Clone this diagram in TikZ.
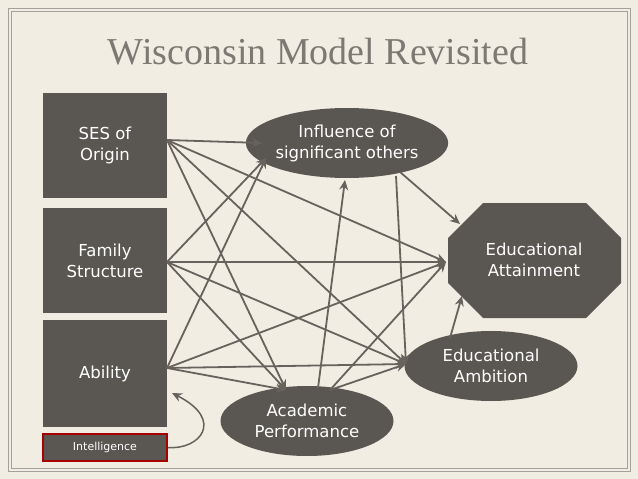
\documentclass[tikz,border=0pt]{standalone}
\usepackage{fontspec}
\setmainfont{DejaVu Sans}
\newfontfamily\titlefont{Liberation Serif}
\usetikzlibrary{shapes.geometric,arrows.meta}
\definecolor{bg}{HTML}{F2EDE3}
\definecolor{boxc}{HTML}{5A5652}
\definecolor{arr}{HTML}{67625C}
\definecolor{ttl}{HTML}{7D7872}
\begin{document}
\begin{tikzpicture}[x=1pt,y=-1pt,
  sq/.style={fill=boxc,text=white,minimum width=124pt,minimum height=105pt,inner sep=0pt,align=center,font=\fontsize{16.5}{21}\selectfont},
  ell/.style={ellipse,fill=boxc,text=white,minimum width=173pt,minimum height=70pt,inner sep=0pt,align=center,font=\fontsize{16.5}{21}\selectfont},
  ar/.style={draw=arr,line width=1.8pt,-{Stealth[length=10pt,width=9pt]}}]
\fill[bg] (0,0) rectangle (638,479);
\draw[ttl!70,line width=0.5pt] (8,8) rectangle (630,471);
\draw[ttl!70,line width=0.5pt] (11,11) rectangle (627,468);
\node[text=ttl,font=\titlefont\fontsize{38}{40}\selectfont] (title) at (318,52) {Wisconsin Model Revisited};
\node[sq] (ses) at (105,145.5) {SES of\\Origin};
\node[sq] (fam) at (105,260.5) {Family\\Structure};
\node[sq,minimum height=107pt] (abi) at (105,373.5) {Ability};
\node[fill=boxc,draw=red!65!black,line width=2pt,text=white,minimum width=124pt,minimum height=27pt,inner sep=0pt,font=\fontsize{11}{13}\selectfont] (intel) at (105,447.5) {Intelligence};
\node[ell] (inf) at (347,143) {Influence of\\significant others};
\node[ell] (aca) at (307,421) {Academic\\Performance};
\node[ell] (amb) at (491,366) {Educational\\Ambition};
\fill[boxc] (483,203) -- (586,203) -- (621,238) -- (621,283) -- (586,318) -- (483,318) -- (448,283) -- (448,238) -- cycle;
\node[text=white,align=center,font=\fontsize{16.5}{21}\selectfont] (att) at (534,260) {Educational\\Attainment};
\coordinate (sesR) at (167,140);
\coordinate (famR) at (167,262);
\coordinate (abiR) at (167,368);
\coordinate (infL) at (262,143);
\coordinate (infLL) at (266,158);
\coordinate (infB) at (345,180);
\coordinate (infBR) at (396,176);
\coordinate (infR) at (400,172);
\coordinate (attL) at (446,262);
\coordinate (attUL) at (460,224);
\coordinate (attBL) at (462,296);
\coordinate (ambL) at (406,364);
\coordinate (ambT) at (450,338);
\coordinate (acaT) at (286,390);
\coordinate (acaTR) at (318,388);
\coordinate (acaR) at (330,390);
\draw[ar] (sesR) -- (infL);
\draw[ar] (sesR) -- (attL);
\draw[ar] (sesR) -- (ambL);
\draw[ar] (sesR) -- (acaT);
\draw[ar] (famR) -- (infLL);
\draw[ar] (famR) -- (attL);
\draw[ar] (famR) -- (ambL);
\draw[ar] (famR) -- (acaT);
\draw[ar] (abiR) -- (infLL);
\draw[ar] (abiR) -- (attL);
\draw[ar] (abiR) -- (ambL);
\draw[ar] (abiR) -- (acaT);
\draw[ar] (infR) -- (attUL);
\draw[ar] (infBR) -- (ambL);
\draw[ar] (acaTR) -- (infB);
\draw[ar] (acaR) -- (attL);
\draw[ar] (acaR) -- (ambL);
\draw[ar] (ambT) -- (attBL);
\draw[draw=arr,line width=1.5pt,-{Stealth[length=10pt,width=9pt]}] (intel.east) .. controls (200,450) and (225,420) .. (172,393);
\end{tikzpicture}
\end{document}
